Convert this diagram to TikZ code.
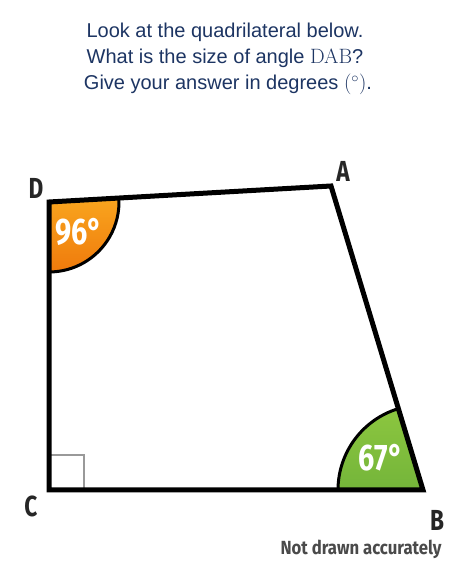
\documentclass[tikz,border=0pt]{standalone}
\usepackage[no-math]{fontspec}
\setmainfont{Liberation Sans}
\newfontfamily\labfont[FakeStretch=0.78]{Fira Sans}
\newfontfamily\footfont[FakeStretch=0.88]{Fira Sans}
\usetikzlibrary{calc}
\definecolor{navy}{HTML}{1D3563}
\definecolor{orangeTop}{HTML}{F9A51E}
\definecolor{orangeBot}{HTML}{EF7A0C}
\definecolor{greenTop}{HTML}{8CC63F}
\definecolor{greenBot}{HTML}{74B53A}
\definecolor{notgray}{HTML}{4A4A4A}
\tikzset{
  edge/.style={line width=5pt, line join=miter, draw=black},
  arcline/.style={line width=3pt, draw=black},
  vlabel/.style={font=\labfont\bfseries\fontsize{29}{29}\selectfont, text=black!85, inner sep=0pt},
  anglabel/.style={font=\labfont\bfseries\fontsize{37}{37}\selectfont, text=white, inner sep=0pt},
  qtext/.style={font=\fontsize{20}{20}\selectfont, text=navy, inner sep=0pt, anchor=base},
}
\begin{document}
\begin{tikzpicture}[x=1pt,y=1pt]
\useasboundingbox (0,0) rectangle (474,561);
\fill[white] (0,0) rectangle (474,561);
% vertices
\coordinate (D) at (49,359);
\coordinate (A) at (331,375);
\coordinate (B) at (423,71);
\coordinate (C) at (49,71);
% angle sectors
\shade[top color=orangeTop, bottom color=orangeBot] (D) -- ++(-90:70) arc[start angle=-90, end angle=3.2, radius=70] -- cycle;
\draw[arcline] ($(D)+(-90:70)$) arc[start angle=-90, end angle=3.2, radius=70];
\shade[top color=greenTop, bottom color=greenBot] (B) -- ++(106.8:85) arc[start angle=106.8, end angle=180, radius=85] -- cycle;
\draw[arcline] ($(B)+(106.8:85)$) arc[start angle=106.8, end angle=180, radius=85];
% right angle mark
\draw[gray!80, line width=2pt] ($(C)+(0,35)$) -- ++(35,0) -- ++(0,-35);
% quadrilateral
\draw[edge] (D) -- (A) -- (B) -- (C) -- cycle;
% vertex labels
\node[vlabel] (lD) at (36,373) {D};
\node[vlabel] (lA) at (343,390) {A};
\node[vlabel] (lB) at (437,41) {B};
\node[vlabel] (lC) at (31,55) {C};
% angle labels
\node[anglabel] (a96) at (79,329) {96°};
\node[anglabel] (a67) at (381,103) {67°};
% question text
\node[qtext] (q1) at (225,523) {Look at the quadrilateral below.};
\node[qtext] (q2) at (225,497) {What is the size of angle $\mathrm{\fontsize{21}{21}\selectfont DAB}$?};
\node[qtext] (q3) at (228,471) {Give your answer in degrees $\fontsize{21}{21}\selectfont(^\circ)$.};
% footer
\node[font=\footfont\bfseries\fontsize{19}{19}\selectfont, text=notgray, anchor=base, inner sep=0pt] (foot) at (361,6) {Not drawn accurately};
\end{tikzpicture}
\end{document}
